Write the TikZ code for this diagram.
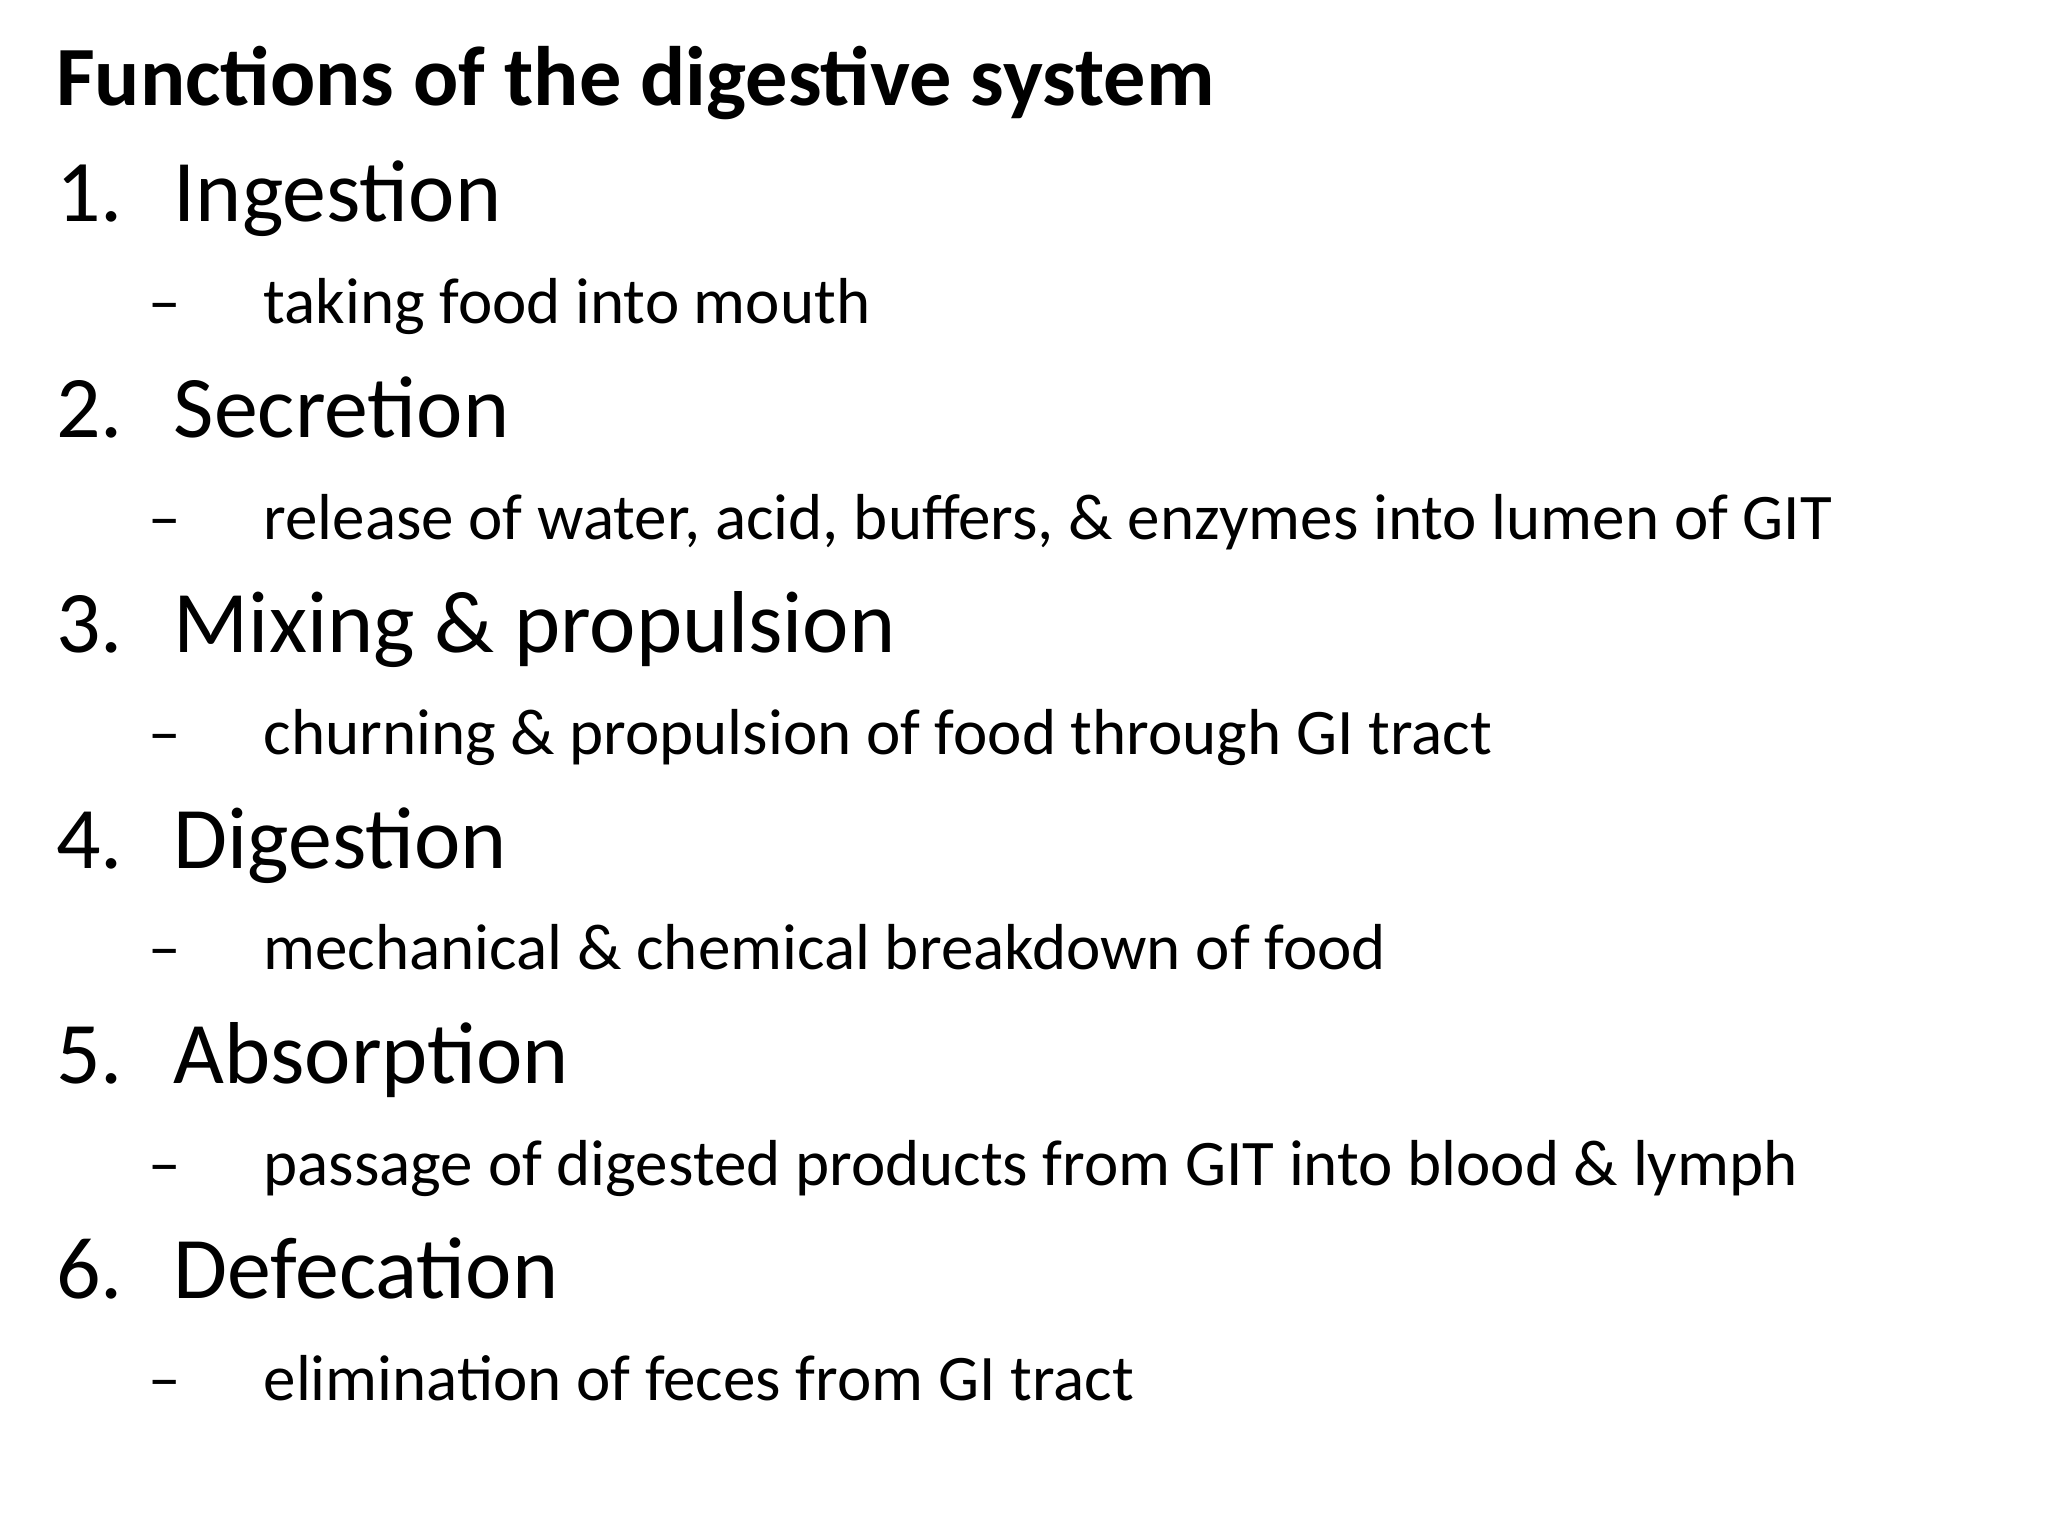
\documentclass[tikz,border=0pt]{standalone}
\usepackage{fontspec}
\setmainfont{Carlito}
\begin{document}
\begin{tikzpicture}[x=0.013213cm,y=-0.013213cm,
  t/.style={anchor=base west,inner sep=0pt,font=\fontsize{24}{28}\selectfont\bfseries},
  h/.style={anchor=base west,inner sep=0pt,font=\fontsize{25}{30}\selectfont},
  s/.style={anchor=base west,inner sep=0pt,font=\fontsize{18.5}{22}\selectfont}]
\useasboundingbox (0,0) rectangle (1550,1162);
\node[t] (title) at (42,80) {Functions of the digestive system};
\foreach \n/\a/\b [count=\i from 0] in {1/Ingestion/taking food into mouth,
 2/Secretion/{release of water, acid, buffers, \& enzymes into lumen of GIT},
 3/Mixing \& propulsion/churning \& propulsion of food through GI tract,
 4/Digestion/mechanical \& chemical breakdown of food,
 5/Absorption/passage of digested products from GIT into blood \& lymph,
 6/Defecation/elimination of feces from GI tract}{
 \node[h] (n\n) at (42,168+163*\i) {\n.};
 \node[h] (i\n) at (131,168+163*\i) {\a};
 \node[s] (d\n) at (112,245+163*\i) {–};
 \node[s] (b\n) at (199,245+163*\i) {\b};
}
\end{tikzpicture}
\end{document}
